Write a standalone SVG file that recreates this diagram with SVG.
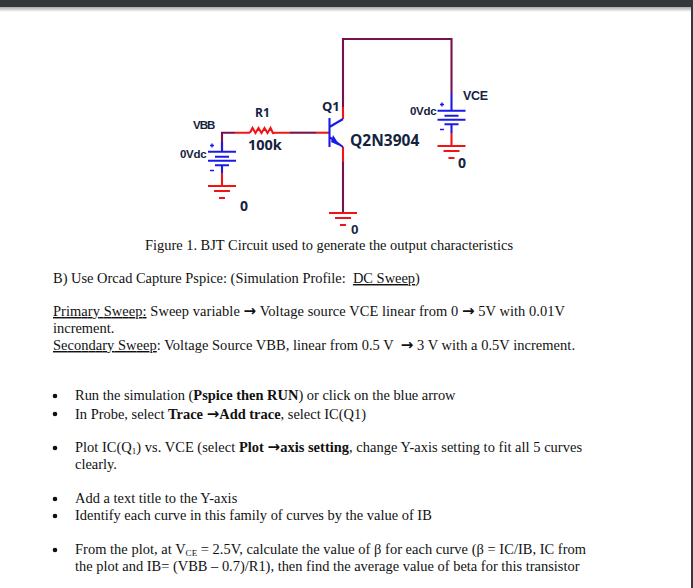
<svg xmlns="http://www.w3.org/2000/svg" width="693" height="588" viewBox="0 0 693 588">
<style>
.t{font-family:"Liberation Serif","Times New Roman",serif;font-size:14.45px;fill:#111}
.b{font-weight:bold}
.a{font-family:"DejaVu Sans",sans-serif;font-size:15px;font-weight:bold}
.u{text-decoration:underline}
.l{font-family:"Open Sans","Liberation Sans",sans-serif;font-weight:bold;fill:#15233f}
.s{font-family:"Liberation Sans",sans-serif;font-weight:bold;fill:#15233f}
.w{fill:none;stroke-width:2.100;stroke-linejoin:miter}
.p{stroke:#76124f}.r{stroke:#f01418}.bl{stroke:#1a1ae6}
.g{fill:none;stroke:#f01418;stroke-width:1.800}
.dot{fill:#111}
</style>
<defs>
<linearGradient id="fade" x1="0" y1="0" x2="0" y2="1"><stop offset="0" stop-color="#aaa"/><stop offset="1" stop-color="#fff"/></linearGradient>
<g id="gnd"><path class="g" d="M-14 0H14M-8 5H8M-3 12H3"/></g>
<g id="bat"><path fill="none" stroke="#1a1ae6" stroke-width="2" d="M-14 0H14M-7 5H7M-14 9H14M-7 13.500H7"/></g>
</defs>
<rect width="693" height="588" fill="#fff"/>
<rect width="693" height="7" fill="#33383d"/>
<rect y="7" width="691" height="5" fill="url(#fade)"/>
<rect x="691" width="2" height="588" fill="#33383d"/>
<g id="connectors">
<path class="w p" d="M343 107V39H451.500V93"/>
<path class="w r" d="M343 107V119"/>
<path class="w r" d="M343 147V162"/>
<path class="w p" d="M343 162V213"/>
<path class="w p" d="M222 150V132.700H235"/>
<path class="w r" d="M235 132.700H250M275 132.700H290"/>
<path class="w p" d="M290 132.700H316"/>
<path class="w r" d="M316 132.700H329"/>
</g>
<g id="q1">
<path class="w bl" d="M329.500 118V147M329.500 127L343 119M329.500 137L343 147"/>
<path fill="#1a1ae6" d="M331 142L340 146L333 135Z"/>
<text class="l" x="322" y="111" font-size="13">Q1</text>
<text class="l" x="350" y="146" font-size="15.500">Q2N3904</text>
</g>
<g id="r1">
<path class="w r" fill="none" d="M250 132.700L252.500 128L255.500 133L258.500 128L261.500 133L264.500 128L267.500 133L270.500 128L273 133L275 132.700"/>
<text class="l" x="255" y="117" font-size="12">R1</text>
<text class="l" x="248" y="150" font-size="14.500">100k</text>
</g>
<g id="vbb">
<path class="w bl" d="M222 142V152M222 165V173"/>
<path class="w r" d="M222 173V186"/>
<use href="#bat" x="222" y="151.700"/>
<use href="#gnd" x="222" y="186"/>
<path fill="none" stroke="#1a1ae6" stroke-width="1.400" d="M210 145.500H214M212 143.500V147.500M210 170.500H214"/>
<text class="s" x="193" y="129" font-size="11.500" letter-spacing="-1">VBB</text>
<text class="s" x="180" y="158" font-size="11.500" letter-spacing="-.3">0Vdc</text>
<text class="l" x="240" y="211" font-size="14">0</text>
</g>
<g id="vce">
<path class="w bl" d="M451.500 93V111M451.500 124V133"/>
<path class="w r" d="M451.500 133V146"/>
<use href="#bat" x="451.500" y="110.700"/>
<use href="#gnd" x="451.500" y="146"/>
<path fill="none" stroke="#1a1ae6" stroke-width="1.400" d="M440 104.500H444M442 102.500V106.500M440 129.500H444"/>
<text class="s" x="463" y="100" font-size="12.500" letter-spacing="-.3">VCE</text>
<text class="s" x="410" y="115" font-size="11.500" letter-spacing="-.3">0Vdc</text>
<text class="l" x="458" y="168" font-size="14">0</text>
</g>
<g id="gnd0">
<use href="#gnd" x="343" y="213"/>
<text class="s" x="351" y="234" font-size="13.500">0</text>
</g>
<text class="t" x="145" y="250" textLength="368">Figure 1. BJT Circuit used to generate the output characteristics</text>
<text class="t" x="53" y="283" xml:space="preserve">B) Use Orcad Capture Pspice: (Simulation Profile:  <tspan class="u">DC Sweep</tspan>)</text>
<text class="t" x="53" y="316" textLength="512"><tspan class="u">Primary Sweep:</tspan> Sweep variable <tspan class="a">→</tspan> Voltage source VCE linear from 0 <tspan class="a">→</tspan> 5V with 0.01V</text>
<text class="t" x="53" y="333">increment.</text>
<text class="t" x="53" y="350" xml:space="preserve" textLength="522"><tspan class="u">Secondary Sweep</tspan>: Voltage Source VBB, linear from 0.5 V  <tspan class="a">→</tspan> 3 V with a 0.5V increment.</text>
<circle class="dot" cx="55" cy="396" r="2.300"/>
<text class="t" x="75" y="400">Run the simulation (<tspan class="b">Pspice then RUN</tspan>) or click on the blue arrow</text>
<circle class="dot" cx="55" cy="414" r="2.300"/>
<text class="t" x="75" y="419">In Probe, select <tspan class="b">Trace </tspan><tspan class="a">→</tspan><tspan class="b">Add trace</tspan>, select IC(Q1)</text>
<circle class="dot" cx="55" cy="448" r="2.300"/>
<text class="t" x="75" y="452" textLength="507">Plot IC(Q<tspan font-size="9" dy="2">1</tspan><tspan dy="-2">) vs. VCE (select </tspan><tspan class="b">Plot </tspan><tspan class="a">→</tspan><tspan class="b">axis setting</tspan>, change Y-axis setting to fit all 5 curves</text>
<text class="t" x="75" y="469">clearly.</text>
<circle class="dot" cx="55" cy="499" r="2.300"/>
<text class="t" x="75" y="503">Add a text title to the Y-axis</text>
<circle class="dot" cx="55" cy="516" r="2.300"/>
<text class="t" x="75" y="520">Identify each curve in this family of curves by the value of IB</text>
<circle class="dot" cx="55" cy="550" r="2.300"/>
<text class="t" x="75" y="554" textLength="511">From the plot, at V<tspan font-size="9" dy="2">CE</tspan><tspan dy="-2"> = 2.5V, calculate the value of β for each curve (β = IC/IB, IC from</tspan></text>
<text class="t" x="75" y="571">the plot and IB= (VBB – 0.7)/R1), then find the average value of beta for this transistor</text>
</svg>
